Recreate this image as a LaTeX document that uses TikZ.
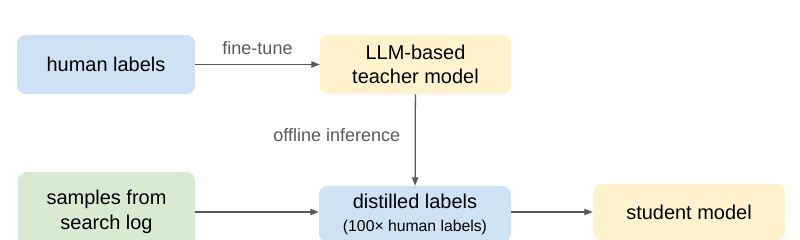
\documentclass[tikz,border=0pt]{standalone}
\usepackage{fontspec}
\setmainfont{Liberation Sans}
\usetikzlibrary{arrows.meta}

\definecolor{boxblue}{HTML}{CFE2F3}
\definecolor{boxyellow}{HTML}{FFF2CC}
\definecolor{boxgreen}{HTML}{D9EAD3}
\definecolor{linegray}{HTML}{595959}

\tikzset{
  stagebox/.style={rounded corners=6pt, inner sep=0pt, align=center,
    font=\fontsize{14.2}{17.5}\selectfont},
  flow/.style={-{Triangle[length=6pt,width=4.5pt]}, linegray, line width=0.9pt},
  flowlabel/.style={text=linegray, font=\fontsize{12.8}{15}\selectfont}
}

\begin{document}
\begin{tikzpicture}[x=0.025cm, y=-0.025cm]
        \useasboundingbox (0,0) rectangle (800,240);

        % top row
        \node[stagebox, fill=boxblue, minimum width=178*0.025cm, minimum height=59*0.025cm] (human) at (106,64.5) {human labels};
        \node[stagebox, fill=boxyellow, minimum width=191*0.025cm, minimum height=59*0.025cm] (teacher) at (415.5,64.5) {LLM-based\\teacher model};

        % bottom row
        \node[stagebox, fill=boxgreen, minimum width=177*0.025cm, minimum height=80*0.025cm] (samples) at (106.5,212) {samples from\\search log};
        \node[stagebox, fill=boxblue, minimum width=192*0.025cm, minimum height=56*0.025cm] (distilled) at (415,214) {distilled labels\\[-1pt]{\fontsize{11.2}{13}\selectfont (100× human labels)}};
        \node[stagebox, fill=boxyellow, minimum width=192*0.025cm, minimum height=56*0.025cm] (student) at (689,212) {student model};

        % arrows
        \draw[flow] (human) -- (teacher) node[flowlabel, midway, above=3pt] (finetune) {fine-tune};
        \draw[flow] (teacher) -- (distilled) node[flowlabel, pos=0.45, left=7pt] (offline) {offline inference};
        \draw[flow] (samples.east |- student.west) -- (distilled.west |- student.west);
        \draw[flow] (distilled.east |- student.west) -- (student);

\end{tikzpicture}
\end{document}
